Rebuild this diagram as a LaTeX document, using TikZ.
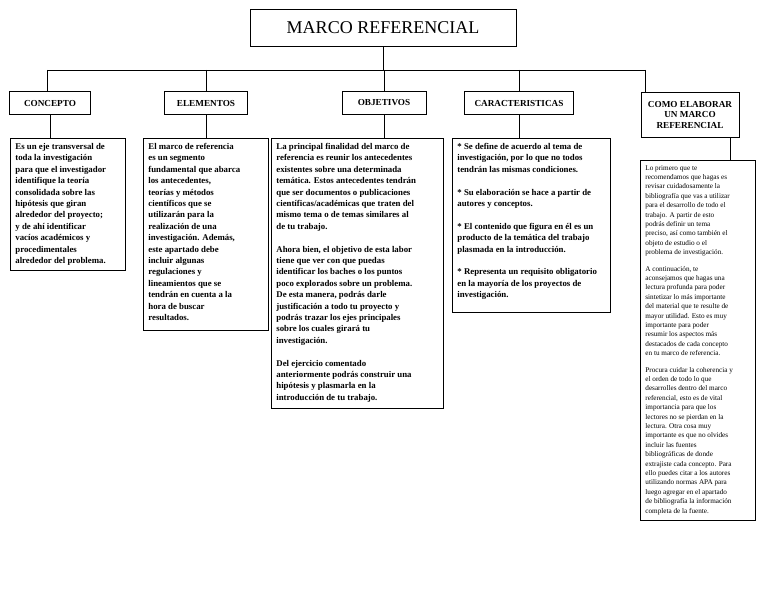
\documentclass[tikz,border=0pt]{standalone}
\usepackage{fontspec}
\setmainfont{Liberation Serif}
\begin{document}
\begin{tikzpicture}[x=1pt,y=-1pt,
  hdr/.style={draw,line width=0.8pt,font=\bfseries\fontsize{9.2}{10.5}\selectfont,align=center,inner sep=2pt},
  tbox/.style={draw,line width=0.8pt,inner sep=5pt,anchor=north west},
  ln/.style={line width=0.7pt}]
\useasboundingbox (0,0) rectangle (768,594);
\newcommand{\bx}[3]{\parbox[t][#1pt][t]{#2pt}{\raggedright #3}}
\node[draw,line width=0.8pt,minimum width=266pt,minimum height=37pt,font=\fontsize{18}{20}\selectfont] (t) at (383,28) {MARCO REFERENCIAL};
\coordinate (bl) at (47,70); \coordinate (br) at (645,70);
\draw[ln] (t.south) -- (383,70);
\draw[ln] (bl) -- (br);
\node[hdr,minimum width=81pt,minimum height=23pt] (h1) at (50,103) {CONCEPTO};
\node[hdr,minimum width=83pt,minimum height=23pt] (h2) at (206,103) {ELEMENTOS};
\node[hdr,minimum width=84pt,minimum height=23pt] (h3) at (384,103) {OBJETIVOS};
\node[hdr,minimum width=109pt,minimum height=23pt] (h4) at (519,103) {CARACTERISTICAS};
\node[hdr,minimum width=98pt,minimum height=45pt] (h5) at (690,114.5) {COMO ELABORAR\\UN MARCO\\REFERENCIAL};
\draw[ln] (bl) -- (bl|-h1.north);
\draw[ln] (206,70) -- (h2.north);
\draw[ln] (384,70) -- (h3.north);
\draw[ln] (519,70) -- (h4.north);
\draw[ln] (br) -- (br|-h5.north);
\begin{scope}[font=\bfseries\fontsize{8.8}{11.4}\selectfont]
\node[tbox] (c1) at (10,138) {\bx{122}{105}{Es un eje transversal de\\toda la investigación\\para que el investigador\\identifique la teoría\\consolidada sobre las\\hipótesis que giran\\alrededor del proyecto;\\y de ahí identificar\\vacíos académicos y\\procedimentales\\alrededor del problema.}};
\node[tbox] (c2) at (143,138) {\bx{182}{115}{El marco de referencia\\es un segmento\\fundamental que abarca\\los antecedentes,\\teorías y métodos\\científicos que se\\utilizarán para la\\realización de una\\investigación. Además,\\este apartado debe\\incluir algunas\\regulaciones y\\lineamientos que se\\tendrán en cuenta a la\\hora de buscar\\resultados.}};
\node[tbox] (c3) at (271,138) {\bx{260}{162}{La principal finalidad del marco de\\referencia es reunir los antecedentes\\existentes sobre una determinada\\temática. Estos antecedentes tendrán\\que ser documentos o publicaciones\\científicas/académicas que traten del\\mismo tema o de temas similares al\\de tu trabajo.\\[11.4pt]Ahora bien, el objetivo de esta labor\\tiene que ver con que puedas\\identificar los baches o los puntos\\poco explorados sobre un problema.\\De esta manera, podrás darle\\justificación a todo tu proyecto y\\podrás trazar los ejes principales\\sobre los cuales girará tu\\investigación.\\[11.4pt]Del ejercicio comentado\\anteriormente podrás construir una\\hipótesis y plasmarla en la\\introducción de tu trabajo.}};
\node[tbox] (c4) at (452,138) {\bx{164}{148}{* Se define de acuerdo al tema de\\investigación, por lo que no todos\\tendrán las mismas condiciones.\\[11.4pt]* Su elaboración se hace a partir de\\autores y conceptos.\\[11.4pt]* El contenido que figura en él es un\\producto de la temática del trabajo\\plasmada en la introducción.\\[11.4pt]* Representa un requisito obligatorio\\en la mayoría de los proyectos de\\investigación.}};
\end{scope}
\node[tbox,font=\fontsize{7.2}{9.4}\selectfont] (c5) at (640,160) {\bx{350}{105}{Lo primero que te\\recomendamos que hagas es\\revisar cuidadosamente la\\bibliografía que vas a utilizar\\para el desarrollo de todo el\\trabajo. A partir de esto\\podrás definir un tema\\preciso, así como también el\\objeto de estudio o el\\problema de investigación.\\[7pt]A continuación, te\\aconsejamos que hagas una\\lectura profunda para poder\\sintetizar lo más importante\\del material que te resulte de\\mayor utilidad. Esto es muy\\importante para poder\\resumir los aspectos más\\destacados de cada concepto\\en tu marco de referencia.\\[7pt]Procura cuidar la coherencia y\\el orden de todo lo que\\desarrolles dentro del marco\\referencial, esto es de vital\\importancia para que los\\lectores no se pierdan en la\\lectura. Otra cosa muy\\importante es que no olvides\\incluir las fuentes\\bibliográficas de donde\\extrajiste cada concepto. Para\\ello puedes citar a los autores\\utilizando normas APA para\\luego agregar en el apartado\\de bibliografía la información\\completa de la fuente.}};
\draw[ln] (h1) -- (h1|-c1.north);
\draw[ln] (h2) -- (h2|-c2.north);
\draw[ln] (h3) -- (h3|-c3.north);
\draw[ln] (h4) -- (h4|-c4.north);
\draw[ln] (730,137) -- (730,160);
\end{tikzpicture}
\end{document}
